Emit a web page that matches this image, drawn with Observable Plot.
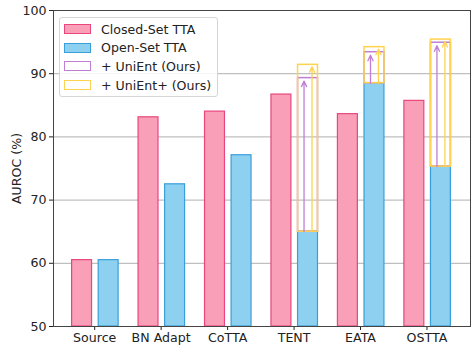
<!DOCTYPE html>
<html>
<head>
<meta charset="utf-8">
<script src="https://cdn.jsdelivr.net/npm/d3@7"></script>
<script src="https://cdn.jsdelivr.net/npm/@observablehq/plot@0.6"></script>
<style>
  html, body { margin: 0; padding: 0; background: #fff; }
  #wrap { position: relative; width: 474px; height: 352px; font-family: "DejaVu Sans", sans-serif; }
  #legend { position: absolute; left: 59px; top: 17px; width: 159px; height: 80px; box-sizing: border-box;
    border: 1px solid #d6d6d6; border-radius: 3px; background: rgba(255,255,255,0.85); font-size: 12.6px; color: #222; }
  .row { position: absolute; left: 4px; height: 18px; display: flex; align-items: center; }
  .sw { width: 27px; height: 10px; box-sizing: border-box; margin-right: 10px; }
</style>
</head>
<body>
<div id="wrap"></div>
<script>
const methods = ["Source", "BN Adapt", "CoTTA", "TENT", "EATA", "OSTTA"];
const closedSet = [60.5, 83.1, 84.0, 86.7, 83.6, 85.7];
const openSet = [60.5, 72.5, 77.1, 65.0, 88.5, 75.3];
const uniEnt = [null, null, null, 89.3, 93.4, 94.9];
const uniEntPlus = [null, null, null, 91.4, 94.2, 95.4];
const yTicks = [50, 60, 70, 80, 90, 100];

const pinkFill = "#f9a0b8", pinkEdge = "#e8467c";
const blueFill = "#8dd0ef", blueEdge = "#3a9fd8";
const purple = "#c07fd4", yellow = "#ffd24f";

const rows = methods.map((m, i) => ({
  i, m, closed: closedSet[i], open: openSet[i], ue: uniEnt[i], uep: uniEntPlus[i]
}));
const ours = rows.filter(d => d.ue != null);

const plot = Plot.plot({
  width: 474,
  height: 352,
  marginLeft: 53,
  marginRight: 4,
  marginTop: 10,
  marginBottom: 26,
  style: { fontFamily: "DejaVu Sans, sans-serif", fontSize: "12.6px", color: "#222", background: "#fff" },
  x: { type: "linear", domain: [-0.62, 5.655] },
  y: { domain: [50, 100] },
  marks: [
    Plot.gridY(yTicks.slice(1, -1), { stroke: "#b0b0b0", strokeOpacity: 1, strokeWidth: 1 }),
    Plot.rectY(rows, { x1: d => d.i - 0.34, x2: d => d.i - 0.04, y1: 50, y2: "closed",
      fill: pinkFill, stroke: pinkEdge, strokeWidth: 1.2 }),
    Plot.rectY(rows, { x1: d => d.i + 0.06, x2: d => d.i + 0.36, y1: 50, y2: "open",
      fill: blueFill, stroke: blueEdge, strokeWidth: 1.2 }),
    Plot.rectY(ours, { x1: d => d.i + 0.06, x2: d => d.i + 0.36, y1: "open", y2: "ue",
      fill: "none", stroke: purple, strokeWidth: 1.5 }),
    Plot.rectY(ours, { x1: d => d.i + 0.06, x2: d => d.i + 0.36, y1: "open", y2: "uep",
      fill: "none", stroke: yellow, strokeWidth: 1.5 }),
    Plot.arrow(ours, { x1: d => d.i + 0.15, x2: d => d.i + 0.15, y1: "open", y2: "ue",
      stroke: purple, strokeWidth: 1.3, headLength: 7, headAngle: 50, insetEnd: 3 }),
    Plot.arrow(ours, { x1: d => d.i + 0.27, x2: d => d.i + 0.27, y1: "open", y2: "uep",
      stroke: yellow, strokeWidth: 1.3, headLength: 7, headAngle: 50, insetEnd: 2 }),
    Plot.axisY({ ticks: yTicks, tickSize: 4, tickPadding: 3, fontSize: 12.6, label: "AUROC (%)",
      labelAnchor: "center", labelOffset: 41, labelArrow: "none" }),
    Plot.axisX({ ticks: d3.range(methods.length), tickFormat: i => methods[i], tickSize: 4,
      tickPadding: 3, fontSize: 12.6, label: null }),
    Plot.frame({ stroke: "#444", strokeWidth: 1 })
  ]
});

const wrap = document.getElementById("wrap");
wrap.appendChild(plot);

const legendItems = [
  { label: "Closed-Set TTA", fill: pinkFill, stroke: pinkEdge },
  { label: "Open-Set TTA", fill: blueFill, stroke: blueEdge },
  { label: "+ UniEnt (Ours)", fill: "#fff", stroke: purple },
  { label: "+ UniEnt+ (Ours)", fill: "#fff", stroke: yellow }
];
const lg = document.createElement("div");
lg.id = "legend";
legendItems.forEach((it, k) => {
  const r = document.createElement("div");
  r.className = "row";
  r.style.top = (2 + k * 18.7) + "px";
  const sw = document.createElement("span");
  sw.className = "sw";
  sw.style.background = it.fill;
  sw.style.border = "1.3px solid " + it.stroke;
  const t = document.createElement("span");
  t.textContent = it.label;
  r.appendChild(sw);
  r.appendChild(t);
  lg.appendChild(r);
});
wrap.appendChild(lg);
</script>
</body>
</html>
